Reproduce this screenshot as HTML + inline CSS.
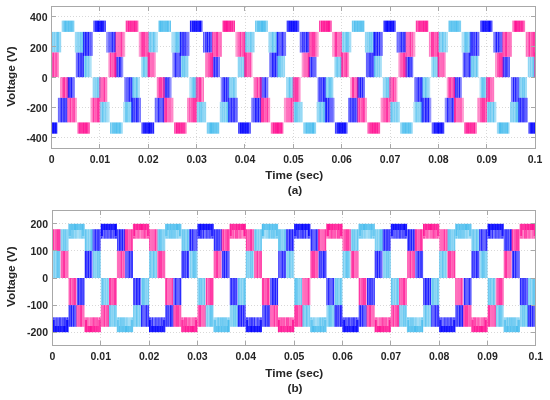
<!DOCTYPE html>
<html><head><meta charset="utf-8"><style>
html,body{margin:0;padding:0;background:#fff;}
svg{display:block;}
text{font-family:"Liberation Sans",Arial,sans-serif;font-weight:bold;fill:#262626;}
</style></head><body><div id="w">
<svg width="550" height="400" viewBox="0 0 550 400">
<defs><pattern id="bk" patternUnits="userSpaceOnUse" width="17" height="400"><rect x="0" width="1" height="400" fill="#0000ff" fill-opacity="0.89"/><rect x="1" width="1" height="400" fill="#0000ff" fill-opacity="0.86"/><rect x="2" width="1" height="400" fill="#0000ff" fill-opacity="0.94"/><rect x="3" width="1" height="400" fill="#0000ff" fill-opacity="0.85"/><rect x="4" width="1" height="400" fill="#0000ff" fill-opacity="0.93"/><rect x="5" width="1" height="400" fill="#0000ff" fill-opacity="0.90"/><rect x="6" width="1" height="400" fill="#0000ff" fill-opacity="0.85"/><rect x="7" width="1" height="400" fill="#0000ff" fill-opacity="0.92"/><rect x="8" width="1" height="400" fill="#0000ff" fill-opacity="0.85"/><rect x="9" width="1" height="400" fill="#0000ff" fill-opacity="0.91"/><rect x="10" width="1" height="400" fill="#0000ff" fill-opacity="0.85"/><rect x="11" width="1" height="400" fill="#0000ff" fill-opacity="0.85"/><rect x="12" width="1" height="400" fill="#0000ff" fill-opacity="0.91"/><rect x="13" width="1" height="400" fill="#0000ff" fill-opacity="0.97"/><rect x="14" width="1" height="400" fill="#0000ff" fill-opacity="0.86"/><rect x="15" width="1" height="400" fill="#0000ff" fill-opacity="0.88"/><rect x="16" width="1" height="400" fill="#0000ff" fill-opacity="0.94"/></pattern><pattern id="bm" patternUnits="userSpaceOnUse" width="17" height="400"><rect x="0" width="1" height="400" fill="#0000ff" fill-opacity="0.87"/><rect x="1" width="1" height="400" fill="#0000ff" fill-opacity="0.75"/><rect x="2" width="1" height="400" fill="#0000ff" fill-opacity="0.68"/><rect x="3" width="1" height="400" fill="#0000ff" fill-opacity="0.88"/><rect x="4" width="1" height="400" fill="#0000ff" fill-opacity="0.57"/><rect x="5" width="1" height="400" fill="#0000ff" fill-opacity="0.84"/><rect x="6" width="1" height="400" fill="#0000ff" fill-opacity="0.65"/><rect x="7" width="1" height="400" fill="#0000ff" fill-opacity="0.60"/><rect x="8" width="1" height="400" fill="#0000ff" fill-opacity="0.59"/><rect x="9" width="1" height="400" fill="#0000ff" fill-opacity="0.65"/><rect x="10" width="1" height="400" fill="#0000ff" fill-opacity="0.83"/><rect x="11" width="1" height="400" fill="#0000ff" fill-opacity="0.61"/><rect x="12" width="1" height="400" fill="#0000ff" fill-opacity="0.75"/><rect x="13" width="1" height="400" fill="#0000ff" fill-opacity="0.77"/><rect x="14" width="1" height="400" fill="#0000ff" fill-opacity="0.68"/><rect x="15" width="1" height="400" fill="#0000ff" fill-opacity="0.74"/><rect x="16" width="1" height="400" fill="#0000ff" fill-opacity="0.57"/></pattern><pattern id="bl" patternUnits="userSpaceOnUse" width="17" height="400"><rect x="0" width="1" height="400" fill="#0000ff" fill-opacity="0.51"/><rect x="1" width="1" height="400" fill="#0000ff" fill-opacity="0.56"/><rect x="2" width="1" height="400" fill="#0000ff" fill-opacity="0.72"/><rect x="3" width="1" height="400" fill="#0000ff" fill-opacity="0.64"/><rect x="4" width="1" height="400" fill="#0000ff" fill-opacity="0.60"/><rect x="5" width="1" height="400" fill="#0000ff" fill-opacity="0.69"/><rect x="6" width="1" height="400" fill="#0000ff" fill-opacity="0.64"/><rect x="7" width="1" height="400" fill="#0000ff" fill-opacity="0.59"/><rect x="8" width="1" height="400" fill="#0000ff" fill-opacity="0.76"/><rect x="9" width="1" height="400" fill="#0000ff" fill-opacity="0.73"/><rect x="10" width="1" height="400" fill="#0000ff" fill-opacity="0.57"/><rect x="11" width="1" height="400" fill="#0000ff" fill-opacity="0.69"/><rect x="12" width="1" height="400" fill="#0000ff" fill-opacity="0.67"/><rect x="13" width="1" height="400" fill="#0000ff" fill-opacity="0.79"/><rect x="14" width="1" height="400" fill="#0000ff" fill-opacity="0.74"/><rect x="15" width="1" height="400" fill="#0000ff" fill-opacity="0.59"/><rect x="16" width="1" height="400" fill="#0000ff" fill-opacity="0.82"/></pattern><pattern id="be" patternUnits="userSpaceOnUse" width="17" height="400"><rect x="0" width="1" height="400" fill="#0000ff" fill-opacity="0.43"/><rect x="1" width="1" height="400" fill="#0000ff" fill-opacity="0.50"/><rect x="2" width="1" height="400" fill="#0000ff" fill-opacity="0.58"/><rect x="3" width="1" height="400" fill="#0000ff" fill-opacity="0.44"/><rect x="4" width="1" height="400" fill="#0000ff" fill-opacity="0.52"/><rect x="5" width="1" height="400" fill="#0000ff" fill-opacity="0.41"/><rect x="6" width="1" height="400" fill="#0000ff" fill-opacity="0.56"/><rect x="7" width="1" height="400" fill="#0000ff" fill-opacity="0.58"/><rect x="8" width="1" height="400" fill="#0000ff" fill-opacity="0.54"/><rect x="9" width="1" height="400" fill="#0000ff" fill-opacity="0.61"/><rect x="10" width="1" height="400" fill="#0000ff" fill-opacity="0.48"/><rect x="11" width="1" height="400" fill="#0000ff" fill-opacity="0.57"/><rect x="12" width="1" height="400" fill="#0000ff" fill-opacity="0.54"/><rect x="13" width="1" height="400" fill="#0000ff" fill-opacity="0.54"/><rect x="14" width="1" height="400" fill="#0000ff" fill-opacity="0.51"/><rect x="15" width="1" height="400" fill="#0000ff" fill-opacity="0.60"/><rect x="16" width="1" height="400" fill="#0000ff" fill-opacity="0.63"/></pattern><pattern id="pk" patternUnits="userSpaceOnUse" width="17" height="400"><rect x="0" width="1" height="400" fill="#ff1493" fill-opacity="0.92"/><rect x="1" width="1" height="400" fill="#ff1493" fill-opacity="0.95"/><rect x="2" width="1" height="400" fill="#ff1493" fill-opacity="0.85"/><rect x="3" width="1" height="400" fill="#ff1493" fill-opacity="0.95"/><rect x="4" width="1" height="400" fill="#ff1493" fill-opacity="0.94"/><rect x="5" width="1" height="400" fill="#ff1493" fill-opacity="1.00"/><rect x="6" width="1" height="400" fill="#ff1493" fill-opacity="0.97"/><rect x="7" width="1" height="400" fill="#ff1493" fill-opacity="0.89"/><rect x="8" width="1" height="400" fill="#ff1493" fill-opacity="0.90"/><rect x="9" width="1" height="400" fill="#ff1493" fill-opacity="0.95"/><rect x="10" width="1" height="400" fill="#ff1493" fill-opacity="0.84"/><rect x="11" width="1" height="400" fill="#ff1493" fill-opacity="0.91"/><rect x="12" width="1" height="400" fill="#ff1493" fill-opacity="0.87"/><rect x="13" width="1" height="400" fill="#ff1493" fill-opacity="0.86"/><rect x="14" width="1" height="400" fill="#ff1493" fill-opacity="0.85"/><rect x="15" width="1" height="400" fill="#ff1493" fill-opacity="0.96"/><rect x="16" width="1" height="400" fill="#ff1493" fill-opacity="0.86"/></pattern><pattern id="pm" patternUnits="userSpaceOnUse" width="17" height="400"><rect x="0" width="1" height="400" fill="#ff1493" fill-opacity="0.63"/><rect x="1" width="1" height="400" fill="#ff1493" fill-opacity="0.68"/><rect x="2" width="1" height="400" fill="#ff1493" fill-opacity="0.85"/><rect x="3" width="1" height="400" fill="#ff1493" fill-opacity="0.58"/><rect x="4" width="1" height="400" fill="#ff1493" fill-opacity="0.70"/><rect x="5" width="1" height="400" fill="#ff1493" fill-opacity="0.74"/><rect x="6" width="1" height="400" fill="#ff1493" fill-opacity="0.85"/><rect x="7" width="1" height="400" fill="#ff1493" fill-opacity="0.83"/><rect x="8" width="1" height="400" fill="#ff1493" fill-opacity="0.84"/><rect x="9" width="1" height="400" fill="#ff1493" fill-opacity="0.64"/><rect x="10" width="1" height="400" fill="#ff1493" fill-opacity="0.69"/><rect x="11" width="1" height="400" fill="#ff1493" fill-opacity="0.67"/><rect x="12" width="1" height="400" fill="#ff1493" fill-opacity="0.85"/><rect x="13" width="1" height="400" fill="#ff1493" fill-opacity="0.88"/><rect x="14" width="1" height="400" fill="#ff1493" fill-opacity="0.60"/><rect x="15" width="1" height="400" fill="#ff1493" fill-opacity="0.61"/><rect x="16" width="1" height="400" fill="#ff1493" fill-opacity="0.63"/></pattern><pattern id="pl" patternUnits="userSpaceOnUse" width="17" height="400"><rect x="0" width="1" height="400" fill="#ff1493" fill-opacity="0.57"/><rect x="1" width="1" height="400" fill="#ff1493" fill-opacity="0.65"/><rect x="2" width="1" height="400" fill="#ff1493" fill-opacity="0.69"/><rect x="3" width="1" height="400" fill="#ff1493" fill-opacity="0.58"/><rect x="4" width="1" height="400" fill="#ff1493" fill-opacity="0.49"/><rect x="5" width="1" height="400" fill="#ff1493" fill-opacity="0.63"/><rect x="6" width="1" height="400" fill="#ff1493" fill-opacity="0.62"/><rect x="7" width="1" height="400" fill="#ff1493" fill-opacity="0.68"/><rect x="8" width="1" height="400" fill="#ff1493" fill-opacity="0.81"/><rect x="9" width="1" height="400" fill="#ff1493" fill-opacity="0.72"/><rect x="10" width="1" height="400" fill="#ff1493" fill-opacity="0.67"/><rect x="11" width="1" height="400" fill="#ff1493" fill-opacity="0.70"/><rect x="12" width="1" height="400" fill="#ff1493" fill-opacity="0.72"/><rect x="13" width="1" height="400" fill="#ff1493" fill-opacity="0.51"/><rect x="14" width="1" height="400" fill="#ff1493" fill-opacity="0.80"/><rect x="15" width="1" height="400" fill="#ff1493" fill-opacity="0.76"/><rect x="16" width="1" height="400" fill="#ff1493" fill-opacity="0.79"/></pattern><pattern id="pe" patternUnits="userSpaceOnUse" width="17" height="400"><rect x="0" width="1" height="400" fill="#ff1493" fill-opacity="0.59"/><rect x="1" width="1" height="400" fill="#ff1493" fill-opacity="0.49"/><rect x="2" width="1" height="400" fill="#ff1493" fill-opacity="0.50"/><rect x="3" width="1" height="400" fill="#ff1493" fill-opacity="0.42"/><rect x="4" width="1" height="400" fill="#ff1493" fill-opacity="0.55"/><rect x="5" width="1" height="400" fill="#ff1493" fill-opacity="0.41"/><rect x="6" width="1" height="400" fill="#ff1493" fill-opacity="0.42"/><rect x="7" width="1" height="400" fill="#ff1493" fill-opacity="0.45"/><rect x="8" width="1" height="400" fill="#ff1493" fill-opacity="0.44"/><rect x="9" width="1" height="400" fill="#ff1493" fill-opacity="0.48"/><rect x="10" width="1" height="400" fill="#ff1493" fill-opacity="0.41"/><rect x="11" width="1" height="400" fill="#ff1493" fill-opacity="0.40"/><rect x="12" width="1" height="400" fill="#ff1493" fill-opacity="0.44"/><rect x="13" width="1" height="400" fill="#ff1493" fill-opacity="0.42"/><rect x="14" width="1" height="400" fill="#ff1493" fill-opacity="0.49"/><rect x="15" width="1" height="400" fill="#ff1493" fill-opacity="0.41"/><rect x="16" width="1" height="400" fill="#ff1493" fill-opacity="0.61"/></pattern><pattern id="ck" patternUnits="userSpaceOnUse" width="17" height="400"><rect x="0" width="1" height="400" fill="#4dbeee" fill-opacity="0.94"/><rect x="1" width="1" height="400" fill="#4dbeee" fill-opacity="0.86"/><rect x="2" width="1" height="400" fill="#4dbeee" fill-opacity="0.88"/><rect x="3" width="1" height="400" fill="#4dbeee" fill-opacity="0.90"/><rect x="4" width="1" height="400" fill="#4dbeee" fill-opacity="0.90"/><rect x="5" width="1" height="400" fill="#4dbeee" fill-opacity="0.86"/><rect x="6" width="1" height="400" fill="#4dbeee" fill-opacity="0.98"/><rect x="7" width="1" height="400" fill="#4dbeee" fill-opacity="1.00"/><rect x="8" width="1" height="400" fill="#4dbeee" fill-opacity="0.91"/><rect x="9" width="1" height="400" fill="#4dbeee" fill-opacity="0.92"/><rect x="10" width="1" height="400" fill="#4dbeee" fill-opacity="0.85"/><rect x="11" width="1" height="400" fill="#4dbeee" fill-opacity="0.86"/><rect x="12" width="1" height="400" fill="#4dbeee" fill-opacity="0.89"/><rect x="13" width="1" height="400" fill="#4dbeee" fill-opacity="0.88"/><rect x="14" width="1" height="400" fill="#4dbeee" fill-opacity="0.97"/><rect x="15" width="1" height="400" fill="#4dbeee" fill-opacity="0.87"/><rect x="16" width="1" height="400" fill="#4dbeee" fill-opacity="0.84"/></pattern><pattern id="cm" patternUnits="userSpaceOnUse" width="17" height="400"><rect x="0" width="1" height="400" fill="#4dbeee" fill-opacity="0.87"/><rect x="1" width="1" height="400" fill="#4dbeee" fill-opacity="0.73"/><rect x="2" width="1" height="400" fill="#4dbeee" fill-opacity="0.60"/><rect x="3" width="1" height="400" fill="#4dbeee" fill-opacity="0.73"/><rect x="4" width="1" height="400" fill="#4dbeee" fill-opacity="0.56"/><rect x="5" width="1" height="400" fill="#4dbeee" fill-opacity="0.73"/><rect x="6" width="1" height="400" fill="#4dbeee" fill-opacity="0.88"/><rect x="7" width="1" height="400" fill="#4dbeee" fill-opacity="0.84"/><rect x="8" width="1" height="400" fill="#4dbeee" fill-opacity="0.79"/><rect x="9" width="1" height="400" fill="#4dbeee" fill-opacity="0.64"/><rect x="10" width="1" height="400" fill="#4dbeee" fill-opacity="0.67"/><rect x="11" width="1" height="400" fill="#4dbeee" fill-opacity="0.61"/><rect x="12" width="1" height="400" fill="#4dbeee" fill-opacity="0.81"/><rect x="13" width="1" height="400" fill="#4dbeee" fill-opacity="0.73"/><rect x="14" width="1" height="400" fill="#4dbeee" fill-opacity="0.81"/><rect x="15" width="1" height="400" fill="#4dbeee" fill-opacity="0.66"/><rect x="16" width="1" height="400" fill="#4dbeee" fill-opacity="0.63"/></pattern><pattern id="cl" patternUnits="userSpaceOnUse" width="17" height="400"><rect x="0" width="1" height="400" fill="#4dbeee" fill-opacity="0.77"/><rect x="1" width="1" height="400" fill="#4dbeee" fill-opacity="0.82"/><rect x="2" width="1" height="400" fill="#4dbeee" fill-opacity="0.78"/><rect x="3" width="1" height="400" fill="#4dbeee" fill-opacity="0.76"/><rect x="4" width="1" height="400" fill="#4dbeee" fill-opacity="0.77"/><rect x="5" width="1" height="400" fill="#4dbeee" fill-opacity="0.74"/><rect x="6" width="1" height="400" fill="#4dbeee" fill-opacity="0.57"/><rect x="7" width="1" height="400" fill="#4dbeee" fill-opacity="0.67"/><rect x="8" width="1" height="400" fill="#4dbeee" fill-opacity="0.61"/><rect x="9" width="1" height="400" fill="#4dbeee" fill-opacity="0.50"/><rect x="10" width="1" height="400" fill="#4dbeee" fill-opacity="0.50"/><rect x="11" width="1" height="400" fill="#4dbeee" fill-opacity="0.59"/><rect x="12" width="1" height="400" fill="#4dbeee" fill-opacity="0.58"/><rect x="13" width="1" height="400" fill="#4dbeee" fill-opacity="0.73"/><rect x="14" width="1" height="400" fill="#4dbeee" fill-opacity="0.82"/><rect x="15" width="1" height="400" fill="#4dbeee" fill-opacity="0.64"/><rect x="16" width="1" height="400" fill="#4dbeee" fill-opacity="0.81"/></pattern><pattern id="ce" patternUnits="userSpaceOnUse" width="17" height="400"><rect x="0" width="1" height="400" fill="#4dbeee" fill-opacity="0.64"/><rect x="1" width="1" height="400" fill="#4dbeee" fill-opacity="0.63"/><rect x="2" width="1" height="400" fill="#4dbeee" fill-opacity="0.49"/><rect x="3" width="1" height="400" fill="#4dbeee" fill-opacity="0.45"/><rect x="4" width="1" height="400" fill="#4dbeee" fill-opacity="0.45"/><rect x="5" width="1" height="400" fill="#4dbeee" fill-opacity="0.45"/><rect x="6" width="1" height="400" fill="#4dbeee" fill-opacity="0.45"/><rect x="7" width="1" height="400" fill="#4dbeee" fill-opacity="0.55"/><rect x="8" width="1" height="400" fill="#4dbeee" fill-opacity="0.62"/><rect x="9" width="1" height="400" fill="#4dbeee" fill-opacity="0.60"/><rect x="10" width="1" height="400" fill="#4dbeee" fill-opacity="0.52"/><rect x="11" width="1" height="400" fill="#4dbeee" fill-opacity="0.56"/><rect x="12" width="1" height="400" fill="#4dbeee" fill-opacity="0.59"/><rect x="13" width="1" height="400" fill="#4dbeee" fill-opacity="0.42"/><rect x="14" width="1" height="400" fill="#4dbeee" fill-opacity="0.56"/><rect x="15" width="1" height="400" fill="#4dbeee" fill-opacity="0.62"/><rect x="16" width="1" height="400" fill="#4dbeee" fill-opacity="0.59"/></pattern></defs>
<rect width="550" height="400" fill="#fff"/>
<g stroke="#d8d8d8" stroke-dasharray="1 2" shape-rendering="crispEdges">
<line x1="51.50" y1="137.50" x2="535.50" y2="137.50"/>
<line x1="51.50" y1="107.50" x2="535.50" y2="107.50"/>
<line x1="51.50" y1="77.50" x2="535.50" y2="77.50"/>
<line x1="51.50" y1="46.50" x2="535.50" y2="46.50"/>
<line x1="51.50" y1="16.50" x2="535.50" y2="16.50"/>
<line x1="99.95" y1="6.50" x2="99.95" y2="148.50"/>
<line x1="148.30" y1="6.50" x2="148.30" y2="148.50"/>
<line x1="196.65" y1="6.50" x2="196.65" y2="148.50"/>
<line x1="245.00" y1="6.50" x2="245.00" y2="148.50"/>
<line x1="293.35" y1="6.50" x2="293.35" y2="148.50"/>
<line x1="341.70" y1="6.50" x2="341.70" y2="148.50"/>
<line x1="390.05" y1="6.50" x2="390.05" y2="148.50"/>
<line x1="438.40" y1="6.50" x2="438.40" y2="148.50"/>
<line x1="486.75" y1="6.50" x2="486.75" y2="148.50"/>
<line x1="52.50" y1="332.50" x2="535.50" y2="332.50"/>
<line x1="52.50" y1="305.50" x2="535.50" y2="305.50"/>
<line x1="52.50" y1="278.50" x2="535.50" y2="278.50"/>
<line x1="52.50" y1="250.50" x2="535.50" y2="250.50"/>
<line x1="52.50" y1="223.50" x2="535.50" y2="223.50"/>
<line x1="100.75" y1="210.50" x2="100.75" y2="345.50"/>
<line x1="149.10" y1="210.50" x2="149.10" y2="345.50"/>
<line x1="197.45" y1="210.50" x2="197.45" y2="345.50"/>
<line x1="245.80" y1="210.50" x2="245.80" y2="345.50"/>
<line x1="294.15" y1="210.50" x2="294.15" y2="345.50"/>
<line x1="342.50" y1="210.50" x2="342.50" y2="345.50"/>
<line x1="390.85" y1="210.50" x2="390.85" y2="345.50"/>
<line x1="439.20" y1="210.50" x2="439.20" y2="345.50"/>
<line x1="487.55" y1="210.50" x2="487.55" y2="345.50"/>
</g>
<g>
<rect x="61.7" y="20.6" width="1.6" height="11.3" fill="url(#cm)"/>
<rect x="63.3" y="20.6" width="9.6" height="11.3" fill="url(#ck)"/>
<rect x="72.9" y="20.6" width="1.4" height="11.3" fill="url(#cm)"/>
<rect x="52.0" y="31.9" width="7.2" height="20.5" fill="url(#cm)"/>
<rect x="59.2" y="31.9" width="2.0" height="20.5" fill="url(#ce)"/>
<rect x="74.8" y="31.9" width="2.0" height="20.7" fill="url(#ce)"/>
<rect x="76.8" y="31.9" width="7.7" height="20.7" fill="url(#cm)"/>
<rect x="52.0" y="56.8" width="0.5" height="20.4" fill="url(#cm)"/>
<rect x="83.5" y="55.9" width="6.7" height="21.3" fill="url(#cm)"/>
<rect x="90.2" y="55.9" width="1.5" height="21.3" fill="url(#ce)"/>
<rect x="110.0" y="122.4" width="1.6" height="11.3" fill="url(#cm)"/>
<rect x="111.6" y="122.4" width="9.6" height="11.3" fill="url(#ck)"/>
<rect x="121.2" y="122.4" width="1.4" height="11.3" fill="url(#cm)"/>
<rect x="99.8" y="101.9" width="7.7" height="20.5" fill="url(#cm)"/>
<rect x="107.5" y="101.9" width="2.0" height="20.5" fill="url(#ce)"/>
<rect x="123.1" y="101.9" width="2.0" height="20.5" fill="url(#ce)"/>
<rect x="125.1" y="101.9" width="7.7" height="20.5" fill="url(#cm)"/>
<rect x="92.6" y="77.2" width="1.5" height="20.7" fill="url(#ce)"/>
<rect x="94.1" y="77.2" width="6.7" height="20.7" fill="url(#cm)"/>
<rect x="131.8" y="77.2" width="6.7" height="20.7" fill="url(#cm)"/>
<rect x="138.5" y="77.2" width="1.5" height="20.7" fill="url(#ce)"/>
<rect x="158.4" y="20.6" width="1.6" height="11.3" fill="url(#cm)"/>
<rect x="160.0" y="20.6" width="9.6" height="11.3" fill="url(#ck)"/>
<rect x="169.6" y="20.6" width="1.4" height="11.3" fill="url(#cm)"/>
<rect x="148.2" y="31.9" width="7.7" height="20.5" fill="url(#cm)"/>
<rect x="155.9" y="31.9" width="2.0" height="20.5" fill="url(#ce)"/>
<rect x="171.5" y="31.9" width="2.0" height="20.7" fill="url(#ce)"/>
<rect x="173.5" y="31.9" width="7.7" height="20.7" fill="url(#cm)"/>
<rect x="141.0" y="56.8" width="1.5" height="20.4" fill="url(#ce)"/>
<rect x="142.5" y="56.8" width="6.7" height="20.4" fill="url(#cm)"/>
<rect x="180.2" y="55.9" width="6.7" height="21.3" fill="url(#cm)"/>
<rect x="186.9" y="55.9" width="1.5" height="21.3" fill="url(#ce)"/>
<rect x="206.7" y="122.4" width="1.6" height="11.3" fill="url(#cm)"/>
<rect x="208.3" y="122.4" width="9.6" height="11.3" fill="url(#ck)"/>
<rect x="217.9" y="122.4" width="1.4" height="11.3" fill="url(#cm)"/>
<rect x="196.5" y="101.9" width="7.7" height="20.5" fill="url(#cm)"/>
<rect x="204.2" y="101.9" width="2.0" height="20.5" fill="url(#ce)"/>
<rect x="219.8" y="101.9" width="2.0" height="20.5" fill="url(#ce)"/>
<rect x="221.8" y="101.9" width="7.7" height="20.5" fill="url(#cm)"/>
<rect x="189.3" y="77.2" width="1.5" height="20.7" fill="url(#ce)"/>
<rect x="190.8" y="77.2" width="6.7" height="20.7" fill="url(#cm)"/>
<rect x="228.5" y="77.2" width="6.7" height="20.7" fill="url(#cm)"/>
<rect x="235.2" y="77.2" width="1.5" height="20.7" fill="url(#ce)"/>
<rect x="255.1" y="20.6" width="1.6" height="11.3" fill="url(#cm)"/>
<rect x="256.7" y="20.6" width="9.6" height="11.3" fill="url(#ck)"/>
<rect x="266.3" y="20.6" width="1.4" height="11.3" fill="url(#cm)"/>
<rect x="244.9" y="31.9" width="7.7" height="20.5" fill="url(#cm)"/>
<rect x="252.6" y="31.9" width="2.0" height="20.5" fill="url(#ce)"/>
<rect x="268.2" y="31.9" width="2.0" height="20.7" fill="url(#ce)"/>
<rect x="270.2" y="31.9" width="7.7" height="20.7" fill="url(#cm)"/>
<rect x="237.7" y="56.8" width="1.5" height="20.4" fill="url(#ce)"/>
<rect x="239.2" y="56.8" width="6.7" height="20.4" fill="url(#cm)"/>
<rect x="276.9" y="55.9" width="6.7" height="21.3" fill="url(#cm)"/>
<rect x="283.6" y="55.9" width="1.5" height="21.3" fill="url(#ce)"/>
<rect x="303.4" y="122.4" width="1.6" height="11.3" fill="url(#cm)"/>
<rect x="305.1" y="122.4" width="9.6" height="11.3" fill="url(#ck)"/>
<rect x="314.7" y="122.4" width="1.4" height="11.3" fill="url(#cm)"/>
<rect x="293.2" y="101.9" width="7.7" height="20.5" fill="url(#cm)"/>
<rect x="300.9" y="101.9" width="2.0" height="20.5" fill="url(#ce)"/>
<rect x="316.6" y="101.9" width="2.0" height="20.5" fill="url(#ce)"/>
<rect x="318.6" y="101.9" width="7.7" height="20.5" fill="url(#cm)"/>
<rect x="286.1" y="77.2" width="1.5" height="20.7" fill="url(#ce)"/>
<rect x="287.6" y="77.2" width="6.7" height="20.7" fill="url(#cm)"/>
<rect x="325.2" y="77.2" width="6.7" height="20.7" fill="url(#cm)"/>
<rect x="331.9" y="77.2" width="1.5" height="20.7" fill="url(#ce)"/>
<rect x="351.8" y="20.6" width="1.6" height="11.3" fill="url(#cm)"/>
<rect x="353.4" y="20.6" width="9.6" height="11.3" fill="url(#ck)"/>
<rect x="363.0" y="20.6" width="1.4" height="11.3" fill="url(#cm)"/>
<rect x="341.6" y="31.9" width="7.7" height="20.5" fill="url(#cm)"/>
<rect x="349.3" y="31.9" width="2.0" height="20.5" fill="url(#ce)"/>
<rect x="364.9" y="31.9" width="2.0" height="20.7" fill="url(#ce)"/>
<rect x="366.9" y="31.9" width="7.7" height="20.7" fill="url(#cm)"/>
<rect x="334.4" y="56.8" width="1.5" height="20.4" fill="url(#ce)"/>
<rect x="335.9" y="56.8" width="6.7" height="20.4" fill="url(#cm)"/>
<rect x="373.6" y="55.9" width="6.7" height="21.3" fill="url(#cm)"/>
<rect x="380.3" y="55.9" width="1.5" height="21.3" fill="url(#ce)"/>
<rect x="400.2" y="122.4" width="1.6" height="11.3" fill="url(#cm)"/>
<rect x="401.8" y="122.4" width="9.6" height="11.3" fill="url(#ck)"/>
<rect x="411.4" y="122.4" width="1.4" height="11.3" fill="url(#cm)"/>
<rect x="390.0" y="101.9" width="7.7" height="20.5" fill="url(#cm)"/>
<rect x="397.7" y="101.9" width="2.0" height="20.5" fill="url(#ce)"/>
<rect x="413.3" y="101.9" width="2.0" height="20.5" fill="url(#ce)"/>
<rect x="415.3" y="101.9" width="7.7" height="20.5" fill="url(#cm)"/>
<rect x="382.8" y="77.2" width="1.5" height="20.7" fill="url(#ce)"/>
<rect x="384.3" y="77.2" width="6.7" height="20.7" fill="url(#cm)"/>
<rect x="422.0" y="77.2" width="6.7" height="20.7" fill="url(#cm)"/>
<rect x="428.7" y="77.2" width="1.5" height="20.7" fill="url(#ce)"/>
<rect x="448.5" y="20.6" width="1.6" height="11.3" fill="url(#cm)"/>
<rect x="450.1" y="20.6" width="9.6" height="11.3" fill="url(#ck)"/>
<rect x="459.7" y="20.6" width="1.4" height="11.3" fill="url(#cm)"/>
<rect x="438.3" y="31.9" width="7.7" height="20.5" fill="url(#cm)"/>
<rect x="446.0" y="31.9" width="2.0" height="20.5" fill="url(#ce)"/>
<rect x="461.6" y="31.9" width="2.0" height="20.7" fill="url(#ce)"/>
<rect x="463.6" y="31.9" width="7.7" height="20.7" fill="url(#cm)"/>
<rect x="431.1" y="56.8" width="1.5" height="20.4" fill="url(#ce)"/>
<rect x="432.6" y="56.8" width="6.7" height="20.4" fill="url(#cm)"/>
<rect x="470.3" y="55.9" width="6.7" height="21.3" fill="url(#cm)"/>
<rect x="477.0" y="55.9" width="1.5" height="21.3" fill="url(#ce)"/>
<rect x="496.9" y="122.4" width="1.6" height="11.3" fill="url(#cm)"/>
<rect x="498.5" y="122.4" width="9.6" height="11.3" fill="url(#ck)"/>
<rect x="508.1" y="122.4" width="1.4" height="11.3" fill="url(#cm)"/>
<rect x="486.7" y="101.9" width="7.7" height="20.5" fill="url(#cm)"/>
<rect x="494.4" y="101.9" width="2.0" height="20.5" fill="url(#ce)"/>
<rect x="510.0" y="101.9" width="2.0" height="20.5" fill="url(#ce)"/>
<rect x="512.0" y="101.9" width="7.7" height="20.5" fill="url(#cm)"/>
<rect x="479.5" y="77.2" width="1.5" height="20.7" fill="url(#ce)"/>
<rect x="481.0" y="77.2" width="6.7" height="20.7" fill="url(#cm)"/>
<rect x="518.7" y="77.2" width="6.7" height="20.7" fill="url(#cm)"/>
<rect x="525.4" y="77.2" width="1.5" height="20.7" fill="url(#ce)"/>
<rect x="527.8" y="56.8" width="1.5" height="20.4" fill="url(#ce)"/>
<rect x="529.3" y="56.8" width="5.7" height="20.4" fill="url(#cm)"/>
<rect x="52.0" y="122.4" width="4.0" height="11.3" fill="url(#bk)"/>
<rect x="56.0" y="122.4" width="1.4" height="11.3" fill="url(#bm)"/>
<rect x="57.9" y="97.8" width="2.0" height="24.6" fill="url(#be)"/>
<rect x="59.9" y="97.8" width="7.7" height="24.6" fill="url(#bm)"/>
<rect x="66.7" y="77.2" width="6.7" height="20.7" fill="url(#bm)"/>
<rect x="73.3" y="77.2" width="1.5" height="20.7" fill="url(#be)"/>
<rect x="93.2" y="20.6" width="1.6" height="11.3" fill="url(#bm)"/>
<rect x="94.8" y="20.6" width="9.6" height="11.3" fill="url(#bk)"/>
<rect x="104.4" y="20.6" width="1.4" height="11.3" fill="url(#bm)"/>
<rect x="83.0" y="31.9" width="7.7" height="24.0" fill="url(#bm)"/>
<rect x="90.7" y="31.9" width="2.0" height="24.0" fill="url(#be)"/>
<rect x="106.3" y="31.9" width="2.0" height="20.7" fill="url(#be)"/>
<rect x="108.3" y="31.9" width="7.7" height="20.7" fill="url(#bm)"/>
<rect x="75.8" y="52.6" width="1.5" height="24.6" fill="url(#be)"/>
<rect x="77.3" y="52.6" width="6.7" height="24.6" fill="url(#bm)"/>
<rect x="115.0" y="56.8" width="6.7" height="20.4" fill="url(#bm)"/>
<rect x="121.7" y="56.8" width="1.5" height="20.4" fill="url(#be)"/>
<rect x="141.5" y="122.4" width="1.6" height="11.3" fill="url(#bm)"/>
<rect x="143.1" y="122.4" width="9.6" height="11.3" fill="url(#bk)"/>
<rect x="152.8" y="122.4" width="1.4" height="11.3" fill="url(#bm)"/>
<rect x="131.3" y="97.8" width="7.7" height="24.6" fill="url(#bm)"/>
<rect x="139.0" y="97.8" width="2.0" height="24.6" fill="url(#be)"/>
<rect x="154.7" y="97.8" width="2.0" height="24.6" fill="url(#be)"/>
<rect x="156.7" y="97.8" width="7.7" height="24.6" fill="url(#bm)"/>
<rect x="124.1" y="77.2" width="1.5" height="24.7" fill="url(#be)"/>
<rect x="125.6" y="77.2" width="6.7" height="24.7" fill="url(#bm)"/>
<rect x="163.3" y="77.2" width="6.7" height="20.7" fill="url(#bm)"/>
<rect x="170.0" y="77.2" width="1.5" height="20.7" fill="url(#be)"/>
<rect x="189.9" y="20.6" width="1.6" height="11.3" fill="url(#bm)"/>
<rect x="191.5" y="20.6" width="9.6" height="11.3" fill="url(#bk)"/>
<rect x="201.1" y="20.6" width="1.4" height="11.3" fill="url(#bm)"/>
<rect x="179.7" y="31.9" width="7.7" height="24.0" fill="url(#bm)"/>
<rect x="187.4" y="31.9" width="2.0" height="24.0" fill="url(#be)"/>
<rect x="203.0" y="31.9" width="2.0" height="20.7" fill="url(#be)"/>
<rect x="205.0" y="31.9" width="7.7" height="20.7" fill="url(#bm)"/>
<rect x="172.5" y="52.6" width="1.5" height="24.6" fill="url(#be)"/>
<rect x="174.0" y="52.6" width="6.7" height="24.6" fill="url(#bm)"/>
<rect x="211.7" y="56.8" width="6.7" height="20.4" fill="url(#bm)"/>
<rect x="218.4" y="56.8" width="1.5" height="20.4" fill="url(#be)"/>
<rect x="238.2" y="122.4" width="1.6" height="11.3" fill="url(#bm)"/>
<rect x="239.8" y="122.4" width="9.6" height="11.3" fill="url(#bk)"/>
<rect x="249.4" y="122.4" width="1.4" height="11.3" fill="url(#bm)"/>
<rect x="228.0" y="97.8" width="7.7" height="24.6" fill="url(#bm)"/>
<rect x="235.7" y="97.8" width="2.0" height="24.6" fill="url(#be)"/>
<rect x="251.3" y="97.8" width="2.0" height="24.6" fill="url(#be)"/>
<rect x="253.3" y="97.8" width="7.7" height="24.6" fill="url(#bm)"/>
<rect x="220.8" y="77.2" width="1.5" height="24.7" fill="url(#be)"/>
<rect x="222.3" y="77.2" width="6.7" height="24.7" fill="url(#bm)"/>
<rect x="260.0" y="77.2" width="6.7" height="20.7" fill="url(#bm)"/>
<rect x="266.8" y="77.2" width="1.5" height="20.7" fill="url(#be)"/>
<rect x="286.6" y="20.6" width="1.6" height="11.3" fill="url(#bm)"/>
<rect x="288.2" y="20.6" width="9.6" height="11.3" fill="url(#bk)"/>
<rect x="297.8" y="20.6" width="1.4" height="11.3" fill="url(#bm)"/>
<rect x="276.4" y="31.9" width="7.7" height="24.0" fill="url(#bm)"/>
<rect x="284.1" y="31.9" width="2.0" height="24.0" fill="url(#be)"/>
<rect x="299.7" y="31.9" width="2.0" height="20.7" fill="url(#be)"/>
<rect x="301.7" y="31.9" width="7.7" height="20.7" fill="url(#bm)"/>
<rect x="269.2" y="52.6" width="1.5" height="24.6" fill="url(#be)"/>
<rect x="270.7" y="52.6" width="6.7" height="24.6" fill="url(#bm)"/>
<rect x="308.4" y="56.8" width="6.7" height="20.4" fill="url(#bm)"/>
<rect x="315.1" y="56.8" width="1.5" height="20.4" fill="url(#be)"/>
<rect x="334.9" y="122.4" width="1.6" height="11.3" fill="url(#bm)"/>
<rect x="336.6" y="122.4" width="9.6" height="11.3" fill="url(#bk)"/>
<rect x="346.2" y="122.4" width="1.4" height="11.3" fill="url(#bm)"/>
<rect x="324.8" y="97.8" width="7.7" height="24.6" fill="url(#bm)"/>
<rect x="332.4" y="97.8" width="2.0" height="24.6" fill="url(#be)"/>
<rect x="348.1" y="97.8" width="2.0" height="24.6" fill="url(#be)"/>
<rect x="350.1" y="97.8" width="7.7" height="24.6" fill="url(#bm)"/>
<rect x="317.6" y="77.2" width="1.5" height="24.7" fill="url(#be)"/>
<rect x="319.1" y="77.2" width="6.7" height="24.7" fill="url(#bm)"/>
<rect x="356.8" y="77.2" width="6.7" height="20.7" fill="url(#bm)"/>
<rect x="363.4" y="77.2" width="1.5" height="20.7" fill="url(#be)"/>
<rect x="383.3" y="20.6" width="1.6" height="11.3" fill="url(#bm)"/>
<rect x="384.9" y="20.6" width="9.6" height="11.3" fill="url(#bk)"/>
<rect x="394.5" y="20.6" width="1.4" height="11.3" fill="url(#bm)"/>
<rect x="373.1" y="31.9" width="7.7" height="24.0" fill="url(#bm)"/>
<rect x="380.8" y="31.9" width="2.0" height="24.0" fill="url(#be)"/>
<rect x="396.4" y="31.9" width="2.0" height="20.7" fill="url(#be)"/>
<rect x="398.4" y="31.9" width="7.7" height="20.7" fill="url(#bm)"/>
<rect x="365.9" y="52.6" width="1.5" height="24.6" fill="url(#be)"/>
<rect x="367.4" y="52.6" width="6.7" height="24.6" fill="url(#bm)"/>
<rect x="405.1" y="56.8" width="6.7" height="20.4" fill="url(#bm)"/>
<rect x="411.8" y="56.8" width="1.5" height="20.4" fill="url(#be)"/>
<rect x="431.7" y="122.4" width="1.6" height="11.3" fill="url(#bm)"/>
<rect x="433.3" y="122.4" width="9.6" height="11.3" fill="url(#bk)"/>
<rect x="442.9" y="122.4" width="1.4" height="11.3" fill="url(#bm)"/>
<rect x="421.5" y="97.8" width="7.7" height="24.6" fill="url(#bm)"/>
<rect x="429.2" y="97.8" width="2.0" height="24.6" fill="url(#be)"/>
<rect x="444.8" y="97.8" width="2.0" height="24.6" fill="url(#be)"/>
<rect x="446.8" y="97.8" width="7.7" height="24.6" fill="url(#bm)"/>
<rect x="414.3" y="77.2" width="1.5" height="24.7" fill="url(#be)"/>
<rect x="415.8" y="77.2" width="6.7" height="24.7" fill="url(#bm)"/>
<rect x="453.5" y="77.2" width="6.7" height="20.7" fill="url(#bm)"/>
<rect x="460.2" y="77.2" width="1.5" height="20.7" fill="url(#be)"/>
<rect x="480.0" y="20.6" width="1.6" height="11.3" fill="url(#bm)"/>
<rect x="481.6" y="20.6" width="9.6" height="11.3" fill="url(#bk)"/>
<rect x="491.2" y="20.6" width="1.4" height="11.3" fill="url(#bm)"/>
<rect x="469.8" y="31.9" width="7.7" height="24.0" fill="url(#bm)"/>
<rect x="477.5" y="31.9" width="2.0" height="24.0" fill="url(#be)"/>
<rect x="493.1" y="31.9" width="2.0" height="20.7" fill="url(#be)"/>
<rect x="495.1" y="31.9" width="7.7" height="20.7" fill="url(#bm)"/>
<rect x="462.6" y="52.6" width="1.5" height="24.6" fill="url(#be)"/>
<rect x="464.1" y="52.6" width="6.7" height="24.6" fill="url(#bm)"/>
<rect x="501.8" y="56.8" width="6.7" height="20.4" fill="url(#bm)"/>
<rect x="508.5" y="56.8" width="1.5" height="20.4" fill="url(#be)"/>
<rect x="528.4" y="122.4" width="1.6" height="11.3" fill="url(#bm)"/>
<rect x="530.0" y="122.4" width="5.0" height="11.3" fill="url(#bk)"/>
<rect x="518.1" y="97.8" width="7.7" height="24.6" fill="url(#bm)"/>
<rect x="525.9" y="97.8" width="2.0" height="24.6" fill="url(#be)"/>
<rect x="510.9" y="77.2" width="1.5" height="24.7" fill="url(#be)"/>
<rect x="512.5" y="77.2" width="6.7" height="24.7" fill="url(#bm)"/>
<rect x="52.0" y="52.4" width="5.5" height="24.7" fill="url(#pm)"/>
<rect x="57.5" y="52.4" width="1.5" height="24.7" fill="url(#pe)"/>
<rect x="77.4" y="122.4" width="1.6" height="11.3" fill="url(#pm)"/>
<rect x="79.0" y="122.4" width="9.6" height="11.3" fill="url(#pk)"/>
<rect x="88.5" y="122.4" width="1.4" height="11.3" fill="url(#pm)"/>
<rect x="67.2" y="97.8" width="7.7" height="24.6" fill="url(#pm)"/>
<rect x="74.9" y="97.8" width="2.0" height="24.6" fill="url(#pe)"/>
<rect x="90.5" y="97.8" width="2.0" height="24.6" fill="url(#pe)"/>
<rect x="92.5" y="97.8" width="7.7" height="24.6" fill="url(#pm)"/>
<rect x="60.0" y="77.2" width="1.5" height="20.7" fill="url(#pe)"/>
<rect x="61.5" y="77.2" width="6.7" height="20.7" fill="url(#pm)"/>
<rect x="99.2" y="77.2" width="6.7" height="24.7" fill="url(#pm)"/>
<rect x="105.9" y="77.2" width="1.5" height="24.7" fill="url(#pe)"/>
<rect x="125.7" y="20.6" width="1.6" height="11.3" fill="url(#pm)"/>
<rect x="127.3" y="20.6" width="9.6" height="11.3" fill="url(#pk)"/>
<rect x="136.9" y="20.6" width="1.4" height="11.3" fill="url(#pm)"/>
<rect x="115.5" y="31.9" width="7.7" height="24.9" fill="url(#pm)"/>
<rect x="123.2" y="31.9" width="2.0" height="24.9" fill="url(#pe)"/>
<rect x="138.8" y="31.9" width="2.0" height="24.9" fill="url(#pe)"/>
<rect x="140.8" y="31.9" width="7.7" height="24.9" fill="url(#pm)"/>
<rect x="108.3" y="52.6" width="1.5" height="24.6" fill="url(#pe)"/>
<rect x="109.8" y="52.6" width="6.7" height="24.6" fill="url(#pm)"/>
<rect x="147.5" y="52.4" width="6.7" height="24.7" fill="url(#pm)"/>
<rect x="154.2" y="52.4" width="1.5" height="24.7" fill="url(#pe)"/>
<rect x="174.0" y="122.4" width="1.6" height="11.3" fill="url(#pm)"/>
<rect x="175.6" y="122.4" width="9.6" height="11.3" fill="url(#pk)"/>
<rect x="185.2" y="122.4" width="1.4" height="11.3" fill="url(#pm)"/>
<rect x="163.8" y="97.8" width="7.7" height="24.6" fill="url(#pm)"/>
<rect x="171.5" y="97.8" width="2.0" height="24.6" fill="url(#pe)"/>
<rect x="187.2" y="97.8" width="2.0" height="24.6" fill="url(#pe)"/>
<rect x="189.2" y="97.8" width="7.7" height="24.6" fill="url(#pm)"/>
<rect x="156.7" y="77.2" width="1.5" height="20.7" fill="url(#pe)"/>
<rect x="158.2" y="77.2" width="6.7" height="20.7" fill="url(#pm)"/>
<rect x="195.8" y="77.2" width="6.7" height="24.7" fill="url(#pm)"/>
<rect x="202.5" y="77.2" width="1.5" height="24.7" fill="url(#pe)"/>
<rect x="222.4" y="20.6" width="1.6" height="11.3" fill="url(#pm)"/>
<rect x="224.0" y="20.6" width="9.6" height="11.3" fill="url(#pk)"/>
<rect x="233.6" y="20.6" width="1.4" height="11.3" fill="url(#pm)"/>
<rect x="212.2" y="31.9" width="7.7" height="24.9" fill="url(#pm)"/>
<rect x="219.9" y="31.9" width="2.0" height="24.9" fill="url(#pe)"/>
<rect x="235.5" y="31.9" width="2.0" height="24.9" fill="url(#pe)"/>
<rect x="237.5" y="31.9" width="7.7" height="24.9" fill="url(#pm)"/>
<rect x="205.0" y="52.6" width="1.5" height="24.6" fill="url(#pe)"/>
<rect x="206.5" y="52.6" width="6.7" height="24.6" fill="url(#pm)"/>
<rect x="244.2" y="52.4" width="6.7" height="24.7" fill="url(#pm)"/>
<rect x="250.9" y="52.4" width="1.5" height="24.7" fill="url(#pe)"/>
<rect x="270.8" y="122.4" width="1.6" height="11.3" fill="url(#pm)"/>
<rect x="272.4" y="122.4" width="9.6" height="11.3" fill="url(#pk)"/>
<rect x="282.0" y="122.4" width="1.4" height="11.3" fill="url(#pm)"/>
<rect x="260.6" y="97.8" width="7.7" height="24.6" fill="url(#pm)"/>
<rect x="268.2" y="97.8" width="2.0" height="24.6" fill="url(#pe)"/>
<rect x="283.9" y="97.8" width="2.0" height="24.6" fill="url(#pe)"/>
<rect x="285.9" y="97.8" width="7.7" height="24.6" fill="url(#pm)"/>
<rect x="253.4" y="77.2" width="1.5" height="20.7" fill="url(#pe)"/>
<rect x="254.9" y="77.2" width="6.7" height="20.7" fill="url(#pm)"/>
<rect x="292.6" y="77.2" width="6.7" height="24.7" fill="url(#pm)"/>
<rect x="299.2" y="77.2" width="1.5" height="24.7" fill="url(#pe)"/>
<rect x="319.1" y="20.6" width="1.6" height="11.3" fill="url(#pm)"/>
<rect x="320.7" y="20.6" width="9.6" height="11.3" fill="url(#pk)"/>
<rect x="330.3" y="20.6" width="1.4" height="11.3" fill="url(#pm)"/>
<rect x="308.9" y="31.9" width="7.7" height="24.9" fill="url(#pm)"/>
<rect x="316.6" y="31.9" width="2.0" height="24.9" fill="url(#pe)"/>
<rect x="332.2" y="31.9" width="2.0" height="24.9" fill="url(#pe)"/>
<rect x="334.2" y="31.9" width="7.7" height="24.9" fill="url(#pm)"/>
<rect x="301.7" y="52.6" width="1.5" height="24.6" fill="url(#pe)"/>
<rect x="303.2" y="52.6" width="6.7" height="24.6" fill="url(#pm)"/>
<rect x="340.9" y="52.4" width="6.7" height="24.7" fill="url(#pm)"/>
<rect x="347.6" y="52.4" width="1.5" height="24.7" fill="url(#pe)"/>
<rect x="367.4" y="122.4" width="1.6" height="11.3" fill="url(#pm)"/>
<rect x="369.1" y="122.4" width="9.6" height="11.3" fill="url(#pk)"/>
<rect x="378.7" y="122.4" width="1.4" height="11.3" fill="url(#pm)"/>
<rect x="357.2" y="97.8" width="7.7" height="24.6" fill="url(#pm)"/>
<rect x="364.9" y="97.8" width="2.0" height="24.6" fill="url(#pe)"/>
<rect x="380.6" y="97.8" width="2.0" height="24.6" fill="url(#pe)"/>
<rect x="382.6" y="97.8" width="7.7" height="24.6" fill="url(#pm)"/>
<rect x="350.1" y="77.2" width="1.5" height="20.7" fill="url(#pe)"/>
<rect x="351.6" y="77.2" width="6.7" height="20.7" fill="url(#pm)"/>
<rect x="389.2" y="77.2" width="6.7" height="24.7" fill="url(#pm)"/>
<rect x="395.9" y="77.2" width="1.5" height="24.7" fill="url(#pe)"/>
<rect x="415.8" y="20.6" width="1.6" height="11.3" fill="url(#pm)"/>
<rect x="417.4" y="20.6" width="9.6" height="11.3" fill="url(#pk)"/>
<rect x="427.0" y="20.6" width="1.4" height="11.3" fill="url(#pm)"/>
<rect x="405.6" y="31.9" width="7.7" height="24.9" fill="url(#pm)"/>
<rect x="413.3" y="31.9" width="2.0" height="24.9" fill="url(#pe)"/>
<rect x="428.9" y="31.9" width="2.0" height="24.9" fill="url(#pe)"/>
<rect x="430.9" y="31.9" width="7.7" height="24.9" fill="url(#pm)"/>
<rect x="398.4" y="52.6" width="1.5" height="24.6" fill="url(#pe)"/>
<rect x="399.9" y="52.6" width="6.7" height="24.6" fill="url(#pm)"/>
<rect x="437.6" y="52.4" width="6.7" height="24.7" fill="url(#pm)"/>
<rect x="444.3" y="52.4" width="1.5" height="24.7" fill="url(#pe)"/>
<rect x="464.2" y="122.4" width="1.6" height="11.3" fill="url(#pm)"/>
<rect x="465.8" y="122.4" width="9.6" height="11.3" fill="url(#pk)"/>
<rect x="475.4" y="122.4" width="1.4" height="11.3" fill="url(#pm)"/>
<rect x="454.0" y="97.8" width="7.7" height="24.6" fill="url(#pm)"/>
<rect x="461.7" y="97.8" width="2.0" height="24.6" fill="url(#pe)"/>
<rect x="477.3" y="97.8" width="2.0" height="24.6" fill="url(#pe)"/>
<rect x="479.3" y="97.8" width="7.7" height="24.6" fill="url(#pm)"/>
<rect x="446.8" y="77.2" width="1.5" height="20.7" fill="url(#pe)"/>
<rect x="448.3" y="77.2" width="6.7" height="20.7" fill="url(#pm)"/>
<rect x="486.0" y="77.2" width="6.7" height="24.7" fill="url(#pm)"/>
<rect x="492.7" y="77.2" width="1.5" height="24.7" fill="url(#pe)"/>
<rect x="512.5" y="20.6" width="1.6" height="11.3" fill="url(#pm)"/>
<rect x="514.1" y="20.6" width="9.6" height="11.3" fill="url(#pk)"/>
<rect x="523.7" y="20.6" width="1.4" height="11.3" fill="url(#pm)"/>
<rect x="502.3" y="31.9" width="7.7" height="24.9" fill="url(#pm)"/>
<rect x="510.0" y="31.9" width="2.0" height="24.9" fill="url(#pe)"/>
<rect x="525.6" y="31.9" width="2.0" height="24.9" fill="url(#pe)"/>
<rect x="527.6" y="31.9" width="7.4" height="24.9" fill="url(#pm)"/>
<rect x="495.1" y="52.6" width="1.5" height="24.6" fill="url(#pe)"/>
<rect x="496.6" y="52.6" width="6.7" height="24.6" fill="url(#pm)"/>
<rect x="534.3" y="52.4" width="0.7" height="24.7" fill="url(#pm)"/>
<rect x="68.4" y="223.8" width="16.3" height="6.2" fill="url(#ck)"/>
<rect x="71.0" y="230.0" width="11.1" height="8.7" fill="url(#cl)"/>
<rect x="68.4" y="230.0" width="2.6" height="6.5" fill="url(#ck)"/>
<rect x="82.1" y="230.0" width="2.6" height="6.5" fill="url(#ck)"/>
<rect x="68.4" y="236.5" width="2.6" height="2.2" fill="url(#cl)"/>
<rect x="82.1" y="236.5" width="2.6" height="2.2" fill="url(#cl)"/>
<rect x="60.3" y="229.2" width="8.1" height="21.7" fill="url(#cm)"/>
<rect x="84.7" y="229.2" width="8.1" height="21.7" fill="url(#cm)"/>
<rect x="53.0" y="250.9" width="7.3" height="27.1" fill="url(#cm)"/>
<rect x="92.9" y="250.9" width="7.9" height="27.1" fill="url(#cm)"/>
<rect x="116.8" y="326.0" width="16.3" height="6.2" fill="url(#ck)"/>
<rect x="119.4" y="317.3" width="11.1" height="8.7" fill="url(#cl)"/>
<rect x="116.8" y="319.5" width="2.6" height="6.5" fill="url(#ck)"/>
<rect x="130.5" y="319.5" width="2.6" height="6.5" fill="url(#ck)"/>
<rect x="116.8" y="317.3" width="2.6" height="2.2" fill="url(#cl)"/>
<rect x="130.5" y="317.3" width="2.6" height="2.2" fill="url(#cl)"/>
<rect x="108.6" y="305.1" width="8.1" height="21.7" fill="url(#cm)"/>
<rect x="133.1" y="305.1" width="8.2" height="21.7" fill="url(#cm)"/>
<rect x="100.8" y="278.0" width="7.9" height="27.1" fill="url(#cm)"/>
<rect x="141.2" y="278.0" width="7.9" height="27.1" fill="url(#cm)"/>
<rect x="165.1" y="223.8" width="16.3" height="6.2" fill="url(#ck)"/>
<rect x="167.7" y="230.0" width="11.1" height="8.7" fill="url(#cl)"/>
<rect x="165.1" y="230.0" width="2.6" height="6.5" fill="url(#ck)"/>
<rect x="178.8" y="230.0" width="2.6" height="6.5" fill="url(#ck)"/>
<rect x="165.1" y="236.5" width="2.6" height="2.2" fill="url(#cl)"/>
<rect x="178.8" y="236.5" width="2.6" height="2.2" fill="url(#cl)"/>
<rect x="157.0" y="229.2" width="8.2" height="21.7" fill="url(#cm)"/>
<rect x="181.4" y="229.2" width="8.2" height="21.7" fill="url(#cm)"/>
<rect x="149.1" y="250.9" width="7.9" height="27.1" fill="url(#cm)"/>
<rect x="189.6" y="250.9" width="7.9" height="27.1" fill="url(#cm)"/>
<rect x="213.5" y="326.0" width="16.3" height="6.2" fill="url(#ck)"/>
<rect x="216.1" y="317.3" width="11.1" height="8.7" fill="url(#cl)"/>
<rect x="213.5" y="319.5" width="2.6" height="6.5" fill="url(#ck)"/>
<rect x="227.2" y="319.5" width="2.6" height="6.5" fill="url(#ck)"/>
<rect x="213.5" y="317.3" width="2.6" height="2.2" fill="url(#cl)"/>
<rect x="227.2" y="317.3" width="2.6" height="2.2" fill="url(#cl)"/>
<rect x="205.3" y="305.1" width="8.2" height="21.7" fill="url(#cm)"/>
<rect x="229.8" y="305.1" width="8.2" height="21.7" fill="url(#cm)"/>
<rect x="197.4" y="278.0" width="7.9" height="27.1" fill="url(#cm)"/>
<rect x="237.9" y="278.0" width="7.9" height="27.1" fill="url(#cm)"/>
<rect x="261.8" y="223.8" width="16.3" height="6.2" fill="url(#ck)"/>
<rect x="264.4" y="230.0" width="11.1" height="8.7" fill="url(#cl)"/>
<rect x="261.8" y="230.0" width="2.6" height="6.5" fill="url(#ck)"/>
<rect x="275.5" y="230.0" width="2.6" height="6.5" fill="url(#ck)"/>
<rect x="261.8" y="236.5" width="2.6" height="2.2" fill="url(#cl)"/>
<rect x="275.5" y="236.5" width="2.6" height="2.2" fill="url(#cl)"/>
<rect x="253.7" y="229.2" width="8.2" height="21.7" fill="url(#cm)"/>
<rect x="278.1" y="229.2" width="8.2" height="21.7" fill="url(#cm)"/>
<rect x="245.8" y="250.9" width="7.9" height="27.1" fill="url(#cm)"/>
<rect x="286.3" y="250.9" width="7.9" height="27.1" fill="url(#cm)"/>
<rect x="310.2" y="326.0" width="16.3" height="6.2" fill="url(#ck)"/>
<rect x="312.8" y="317.3" width="11.1" height="8.7" fill="url(#cl)"/>
<rect x="310.2" y="319.5" width="2.6" height="6.5" fill="url(#ck)"/>
<rect x="323.9" y="319.5" width="2.6" height="6.5" fill="url(#ck)"/>
<rect x="310.2" y="317.3" width="2.6" height="2.2" fill="url(#cl)"/>
<rect x="323.9" y="317.3" width="2.6" height="2.2" fill="url(#cl)"/>
<rect x="302.0" y="305.1" width="8.2" height="21.7" fill="url(#cm)"/>
<rect x="326.5" y="305.1" width="8.2" height="21.7" fill="url(#cm)"/>
<rect x="294.2" y="278.0" width="7.9" height="27.1" fill="url(#cm)"/>
<rect x="334.6" y="278.0" width="7.9" height="27.1" fill="url(#cm)"/>
<rect x="358.5" y="223.8" width="16.3" height="6.2" fill="url(#ck)"/>
<rect x="361.1" y="230.0" width="11.1" height="8.7" fill="url(#cl)"/>
<rect x="358.5" y="230.0" width="2.6" height="6.5" fill="url(#ck)"/>
<rect x="372.2" y="230.0" width="2.6" height="6.5" fill="url(#ck)"/>
<rect x="358.5" y="236.5" width="2.6" height="2.2" fill="url(#cl)"/>
<rect x="372.2" y="236.5" width="2.6" height="2.2" fill="url(#cl)"/>
<rect x="350.4" y="229.2" width="8.2" height="21.7" fill="url(#cm)"/>
<rect x="374.8" y="229.2" width="8.2" height="21.7" fill="url(#cm)"/>
<rect x="342.5" y="250.9" width="7.9" height="27.1" fill="url(#cm)"/>
<rect x="383.0" y="250.9" width="7.9" height="27.1" fill="url(#cm)"/>
<rect x="406.9" y="326.0" width="16.3" height="6.2" fill="url(#ck)"/>
<rect x="409.5" y="317.3" width="11.1" height="8.7" fill="url(#cl)"/>
<rect x="406.9" y="319.5" width="2.6" height="6.5" fill="url(#ck)"/>
<rect x="420.6" y="319.5" width="2.6" height="6.5" fill="url(#ck)"/>
<rect x="406.9" y="317.3" width="2.6" height="2.2" fill="url(#cl)"/>
<rect x="420.6" y="317.3" width="2.6" height="2.2" fill="url(#cl)"/>
<rect x="398.7" y="305.1" width="8.2" height="21.7" fill="url(#cm)"/>
<rect x="423.2" y="305.1" width="8.2" height="21.7" fill="url(#cm)"/>
<rect x="390.9" y="278.0" width="7.9" height="27.1" fill="url(#cm)"/>
<rect x="431.3" y="278.0" width="7.9" height="27.1" fill="url(#cm)"/>
<rect x="455.2" y="223.8" width="16.3" height="6.2" fill="url(#ck)"/>
<rect x="457.8" y="230.0" width="11.1" height="8.7" fill="url(#cl)"/>
<rect x="455.2" y="230.0" width="2.6" height="6.5" fill="url(#ck)"/>
<rect x="468.9" y="230.0" width="2.6" height="6.5" fill="url(#ck)"/>
<rect x="455.2" y="236.5" width="2.6" height="2.2" fill="url(#cl)"/>
<rect x="468.9" y="236.5" width="2.6" height="2.2" fill="url(#cl)"/>
<rect x="447.1" y="229.2" width="8.2" height="21.7" fill="url(#cm)"/>
<rect x="471.5" y="229.2" width="8.2" height="21.7" fill="url(#cm)"/>
<rect x="439.2" y="250.9" width="7.9" height="27.1" fill="url(#cm)"/>
<rect x="479.7" y="250.9" width="7.9" height="27.1" fill="url(#cm)"/>
<rect x="503.6" y="326.0" width="16.3" height="6.2" fill="url(#ck)"/>
<rect x="506.2" y="317.3" width="11.1" height="8.7" fill="url(#cl)"/>
<rect x="503.6" y="319.5" width="2.6" height="6.5" fill="url(#ck)"/>
<rect x="517.3" y="319.5" width="2.6" height="6.5" fill="url(#ck)"/>
<rect x="503.6" y="317.3" width="2.6" height="2.2" fill="url(#cl)"/>
<rect x="517.3" y="317.3" width="2.6" height="2.2" fill="url(#cl)"/>
<rect x="495.4" y="305.1" width="8.2" height="21.7" fill="url(#cm)"/>
<rect x="519.9" y="305.1" width="8.1" height="21.7" fill="url(#cm)"/>
<rect x="487.6" y="278.0" width="7.9" height="27.1" fill="url(#cm)"/>
<rect x="528.0" y="278.0" width="7.0" height="27.1" fill="url(#cm)"/>
<rect x="53.0" y="326.0" width="15.6" height="6.2" fill="url(#bk)"/>
<rect x="54.9" y="317.3" width="11.1" height="8.7" fill="url(#bl)"/>
<rect x="53.0" y="319.5" width="1.9" height="6.5" fill="url(#bk)"/>
<rect x="66.0" y="319.5" width="2.6" height="6.5" fill="url(#bk)"/>
<rect x="53.0" y="317.3" width="1.9" height="2.2" fill="url(#bl)"/>
<rect x="66.0" y="317.3" width="2.6" height="2.2" fill="url(#bl)"/>
<rect x="68.6" y="305.1" width="8.2" height="21.7" fill="url(#bm)"/>
<rect x="76.8" y="278.0" width="7.9" height="27.1" fill="url(#bm)"/>
<rect x="100.7" y="223.8" width="16.3" height="6.2" fill="url(#bk)"/>
<rect x="103.3" y="230.0" width="11.1" height="8.7" fill="url(#bl)"/>
<rect x="100.7" y="230.0" width="2.6" height="6.5" fill="url(#bk)"/>
<rect x="114.4" y="230.0" width="2.6" height="6.5" fill="url(#bk)"/>
<rect x="100.7" y="236.5" width="2.6" height="2.2" fill="url(#bl)"/>
<rect x="114.4" y="236.5" width="2.6" height="2.2" fill="url(#bl)"/>
<rect x="92.5" y="229.2" width="8.1" height="21.7" fill="url(#bm)"/>
<rect x="117.0" y="229.2" width="8.1" height="21.7" fill="url(#bm)"/>
<rect x="84.6" y="250.9" width="7.9" height="27.1" fill="url(#bm)"/>
<rect x="125.1" y="250.9" width="7.9" height="27.1" fill="url(#bm)"/>
<rect x="149.0" y="326.0" width="16.3" height="6.2" fill="url(#bk)"/>
<rect x="151.6" y="317.3" width="11.1" height="8.7" fill="url(#bl)"/>
<rect x="149.0" y="319.5" width="2.6" height="6.5" fill="url(#bk)"/>
<rect x="162.7" y="319.5" width="2.6" height="6.5" fill="url(#bk)"/>
<rect x="149.0" y="317.3" width="2.6" height="2.2" fill="url(#bl)"/>
<rect x="162.7" y="317.3" width="2.6" height="2.2" fill="url(#bl)"/>
<rect x="140.9" y="305.1" width="8.2" height="21.7" fill="url(#bm)"/>
<rect x="165.3" y="305.1" width="8.2" height="21.7" fill="url(#bm)"/>
<rect x="133.0" y="278.0" width="7.9" height="27.1" fill="url(#bm)"/>
<rect x="173.5" y="278.0" width="7.9" height="27.1" fill="url(#bm)"/>
<rect x="197.4" y="223.8" width="16.3" height="6.2" fill="url(#bk)"/>
<rect x="200.0" y="230.0" width="11.1" height="8.7" fill="url(#bl)"/>
<rect x="197.4" y="230.0" width="2.6" height="6.5" fill="url(#bk)"/>
<rect x="211.1" y="230.0" width="2.6" height="6.5" fill="url(#bk)"/>
<rect x="197.4" y="236.5" width="2.6" height="2.2" fill="url(#bl)"/>
<rect x="211.1" y="236.5" width="2.6" height="2.2" fill="url(#bl)"/>
<rect x="189.2" y="229.2" width="8.2" height="21.7" fill="url(#bm)"/>
<rect x="213.7" y="229.2" width="8.2" height="21.7" fill="url(#bm)"/>
<rect x="181.3" y="250.9" width="7.9" height="27.1" fill="url(#bm)"/>
<rect x="221.8" y="250.9" width="7.9" height="27.1" fill="url(#bm)"/>
<rect x="245.7" y="326.0" width="16.3" height="6.2" fill="url(#bk)"/>
<rect x="248.3" y="317.3" width="11.1" height="8.7" fill="url(#bl)"/>
<rect x="245.7" y="319.5" width="2.6" height="6.5" fill="url(#bk)"/>
<rect x="259.4" y="319.5" width="2.6" height="6.5" fill="url(#bk)"/>
<rect x="245.7" y="317.3" width="2.6" height="2.2" fill="url(#bl)"/>
<rect x="259.4" y="317.3" width="2.6" height="2.2" fill="url(#bl)"/>
<rect x="237.6" y="305.1" width="8.2" height="21.7" fill="url(#bm)"/>
<rect x="262.0" y="305.1" width="8.1" height="21.7" fill="url(#bm)"/>
<rect x="229.7" y="278.0" width="7.9" height="27.1" fill="url(#bm)"/>
<rect x="270.2" y="278.0" width="7.9" height="27.1" fill="url(#bm)"/>
<rect x="294.1" y="223.8" width="16.3" height="6.2" fill="url(#bk)"/>
<rect x="296.7" y="230.0" width="11.1" height="8.7" fill="url(#bl)"/>
<rect x="294.1" y="230.0" width="2.6" height="6.5" fill="url(#bk)"/>
<rect x="307.8" y="230.0" width="2.6" height="6.5" fill="url(#bk)"/>
<rect x="294.1" y="236.5" width="2.6" height="2.2" fill="url(#bl)"/>
<rect x="307.8" y="236.5" width="2.6" height="2.2" fill="url(#bl)"/>
<rect x="285.9" y="229.2" width="8.2" height="21.7" fill="url(#bm)"/>
<rect x="310.4" y="229.2" width="8.2" height="21.7" fill="url(#bm)"/>
<rect x="278.0" y="250.9" width="7.9" height="27.1" fill="url(#bm)"/>
<rect x="318.5" y="250.9" width="7.9" height="27.1" fill="url(#bm)"/>
<rect x="342.4" y="326.0" width="16.3" height="6.2" fill="url(#bk)"/>
<rect x="345.0" y="317.3" width="11.1" height="8.7" fill="url(#bl)"/>
<rect x="342.4" y="319.5" width="2.6" height="6.5" fill="url(#bk)"/>
<rect x="356.1" y="319.5" width="2.6" height="6.5" fill="url(#bk)"/>
<rect x="342.4" y="317.3" width="2.6" height="2.2" fill="url(#bl)"/>
<rect x="356.1" y="317.3" width="2.6" height="2.2" fill="url(#bl)"/>
<rect x="334.3" y="305.1" width="8.2" height="21.7" fill="url(#bm)"/>
<rect x="358.7" y="305.1" width="8.2" height="21.7" fill="url(#bm)"/>
<rect x="326.4" y="278.0" width="7.9" height="27.1" fill="url(#bm)"/>
<rect x="366.9" y="278.0" width="7.9" height="27.1" fill="url(#bm)"/>
<rect x="390.8" y="223.8" width="16.3" height="6.2" fill="url(#bk)"/>
<rect x="393.4" y="230.0" width="11.1" height="8.7" fill="url(#bl)"/>
<rect x="390.8" y="230.0" width="2.6" height="6.5" fill="url(#bk)"/>
<rect x="404.5" y="230.0" width="2.6" height="6.5" fill="url(#bk)"/>
<rect x="390.8" y="236.5" width="2.6" height="2.2" fill="url(#bl)"/>
<rect x="404.5" y="236.5" width="2.6" height="2.2" fill="url(#bl)"/>
<rect x="382.6" y="229.2" width="8.2" height="21.7" fill="url(#bm)"/>
<rect x="407.1" y="229.2" width="8.2" height="21.7" fill="url(#bm)"/>
<rect x="374.7" y="250.9" width="7.9" height="27.1" fill="url(#bm)"/>
<rect x="415.2" y="250.9" width="7.9" height="27.1" fill="url(#bm)"/>
<rect x="439.1" y="326.0" width="16.3" height="6.2" fill="url(#bk)"/>
<rect x="441.7" y="317.3" width="11.1" height="8.7" fill="url(#bl)"/>
<rect x="439.1" y="319.5" width="2.6" height="6.5" fill="url(#bk)"/>
<rect x="452.8" y="319.5" width="2.6" height="6.5" fill="url(#bk)"/>
<rect x="439.1" y="317.3" width="2.6" height="2.2" fill="url(#bl)"/>
<rect x="452.8" y="317.3" width="2.6" height="2.2" fill="url(#bl)"/>
<rect x="431.0" y="305.1" width="8.2" height="21.7" fill="url(#bm)"/>
<rect x="455.4" y="305.1" width="8.2" height="21.7" fill="url(#bm)"/>
<rect x="423.1" y="278.0" width="7.9" height="27.1" fill="url(#bm)"/>
<rect x="463.6" y="278.0" width="7.9" height="27.1" fill="url(#bm)"/>
<rect x="487.5" y="223.8" width="16.3" height="6.2" fill="url(#bk)"/>
<rect x="490.1" y="230.0" width="11.1" height="8.7" fill="url(#bl)"/>
<rect x="487.5" y="230.0" width="2.6" height="6.5" fill="url(#bk)"/>
<rect x="501.2" y="230.0" width="2.6" height="6.5" fill="url(#bk)"/>
<rect x="487.5" y="236.5" width="2.6" height="2.2" fill="url(#bl)"/>
<rect x="501.2" y="236.5" width="2.6" height="2.2" fill="url(#bl)"/>
<rect x="479.3" y="229.2" width="8.2" height="21.7" fill="url(#bm)"/>
<rect x="503.8" y="229.2" width="8.2" height="21.7" fill="url(#bm)"/>
<rect x="471.4" y="250.9" width="7.9" height="27.1" fill="url(#bm)"/>
<rect x="511.9" y="250.9" width="7.9" height="27.1" fill="url(#bm)"/>
<rect x="527.7" y="305.1" width="7.3" height="21.7" fill="url(#bm)"/>
<rect x="519.8" y="278.0" width="7.9" height="27.1" fill="url(#bm)"/>
<rect x="53.0" y="229.2" width="7.6" height="21.7" fill="url(#pm)"/>
<rect x="60.6" y="250.9" width="7.9" height="27.1" fill="url(#pm)"/>
<rect x="84.5" y="326.0" width="16.3" height="6.2" fill="url(#pk)"/>
<rect x="87.1" y="317.3" width="11.1" height="8.7" fill="url(#pl)"/>
<rect x="84.5" y="319.5" width="2.6" height="6.5" fill="url(#pk)"/>
<rect x="98.2" y="319.5" width="2.6" height="6.5" fill="url(#pk)"/>
<rect x="84.5" y="317.3" width="2.6" height="2.2" fill="url(#pl)"/>
<rect x="98.2" y="317.3" width="2.6" height="2.2" fill="url(#pl)"/>
<rect x="76.4" y="305.1" width="8.1" height="21.7" fill="url(#pm)"/>
<rect x="100.8" y="305.1" width="8.1" height="21.7" fill="url(#pm)"/>
<rect x="68.5" y="278.0" width="7.9" height="27.1" fill="url(#pm)"/>
<rect x="109.0" y="278.0" width="7.9" height="27.1" fill="url(#pm)"/>
<rect x="132.9" y="223.8" width="16.3" height="6.2" fill="url(#pk)"/>
<rect x="135.5" y="230.0" width="11.1" height="8.7" fill="url(#pl)"/>
<rect x="132.9" y="230.0" width="2.6" height="6.5" fill="url(#pk)"/>
<rect x="146.6" y="230.0" width="2.6" height="6.5" fill="url(#pk)"/>
<rect x="132.9" y="236.5" width="2.6" height="2.2" fill="url(#pl)"/>
<rect x="146.6" y="236.5" width="2.6" height="2.2" fill="url(#pl)"/>
<rect x="124.7" y="229.2" width="8.1" height="21.7" fill="url(#pm)"/>
<rect x="149.2" y="229.2" width="8.2" height="21.7" fill="url(#pm)"/>
<rect x="116.9" y="250.9" width="7.9" height="27.1" fill="url(#pm)"/>
<rect x="157.3" y="250.9" width="7.9" height="27.1" fill="url(#pm)"/>
<rect x="181.2" y="326.0" width="16.3" height="6.2" fill="url(#pk)"/>
<rect x="183.8" y="317.3" width="11.1" height="8.7" fill="url(#pl)"/>
<rect x="181.2" y="319.5" width="2.6" height="6.5" fill="url(#pk)"/>
<rect x="194.9" y="319.5" width="2.6" height="6.5" fill="url(#pk)"/>
<rect x="181.2" y="317.3" width="2.6" height="2.2" fill="url(#pl)"/>
<rect x="194.9" y="317.3" width="2.6" height="2.2" fill="url(#pl)"/>
<rect x="173.1" y="305.1" width="8.2" height="21.7" fill="url(#pm)"/>
<rect x="197.5" y="305.1" width="8.2" height="21.7" fill="url(#pm)"/>
<rect x="165.2" y="278.0" width="7.9" height="27.1" fill="url(#pm)"/>
<rect x="205.7" y="278.0" width="7.9" height="27.1" fill="url(#pm)"/>
<rect x="229.6" y="223.8" width="16.3" height="6.2" fill="url(#pk)"/>
<rect x="232.2" y="230.0" width="11.1" height="8.7" fill="url(#pl)"/>
<rect x="229.6" y="230.0" width="2.6" height="6.5" fill="url(#pk)"/>
<rect x="243.3" y="230.0" width="2.6" height="6.5" fill="url(#pk)"/>
<rect x="229.6" y="236.5" width="2.6" height="2.2" fill="url(#pl)"/>
<rect x="243.3" y="236.5" width="2.6" height="2.2" fill="url(#pl)"/>
<rect x="221.4" y="229.2" width="8.2" height="21.7" fill="url(#pm)"/>
<rect x="245.9" y="229.2" width="8.2" height="21.7" fill="url(#pm)"/>
<rect x="213.6" y="250.9" width="7.9" height="27.1" fill="url(#pm)"/>
<rect x="254.0" y="250.9" width="7.9" height="27.1" fill="url(#pm)"/>
<rect x="277.9" y="326.0" width="16.3" height="6.2" fill="url(#pk)"/>
<rect x="280.5" y="317.3" width="11.1" height="8.7" fill="url(#pl)"/>
<rect x="277.9" y="319.5" width="2.6" height="6.5" fill="url(#pk)"/>
<rect x="291.6" y="319.5" width="2.6" height="6.5" fill="url(#pk)"/>
<rect x="277.9" y="317.3" width="2.6" height="2.2" fill="url(#pl)"/>
<rect x="291.6" y="317.3" width="2.6" height="2.2" fill="url(#pl)"/>
<rect x="269.8" y="305.1" width="8.2" height="21.7" fill="url(#pm)"/>
<rect x="294.2" y="305.1" width="8.2" height="21.7" fill="url(#pm)"/>
<rect x="261.9" y="278.0" width="7.9" height="27.1" fill="url(#pm)"/>
<rect x="302.4" y="278.0" width="7.9" height="27.1" fill="url(#pm)"/>
<rect x="326.3" y="223.8" width="16.3" height="6.2" fill="url(#pk)"/>
<rect x="328.9" y="230.0" width="11.1" height="8.7" fill="url(#pl)"/>
<rect x="326.3" y="230.0" width="2.6" height="6.5" fill="url(#pk)"/>
<rect x="340.0" y="230.0" width="2.6" height="6.5" fill="url(#pk)"/>
<rect x="326.3" y="236.5" width="2.6" height="2.2" fill="url(#pl)"/>
<rect x="340.0" y="236.5" width="2.6" height="2.2" fill="url(#pl)"/>
<rect x="318.1" y="229.2" width="8.2" height="21.7" fill="url(#pm)"/>
<rect x="342.6" y="229.2" width="8.2" height="21.7" fill="url(#pm)"/>
<rect x="310.3" y="250.9" width="7.9" height="27.1" fill="url(#pm)"/>
<rect x="350.7" y="250.9" width="7.9" height="27.1" fill="url(#pm)"/>
<rect x="374.6" y="326.0" width="16.3" height="6.2" fill="url(#pk)"/>
<rect x="377.2" y="317.3" width="11.1" height="8.7" fill="url(#pl)"/>
<rect x="374.6" y="319.5" width="2.6" height="6.5" fill="url(#pk)"/>
<rect x="388.3" y="319.5" width="2.6" height="6.5" fill="url(#pk)"/>
<rect x="374.6" y="317.3" width="2.6" height="2.2" fill="url(#pl)"/>
<rect x="388.3" y="317.3" width="2.6" height="2.2" fill="url(#pl)"/>
<rect x="366.5" y="305.1" width="8.2" height="21.7" fill="url(#pm)"/>
<rect x="390.9" y="305.1" width="8.2" height="21.7" fill="url(#pm)"/>
<rect x="358.6" y="278.0" width="7.9" height="27.1" fill="url(#pm)"/>
<rect x="399.1" y="278.0" width="7.9" height="27.1" fill="url(#pm)"/>
<rect x="423.0" y="223.8" width="16.3" height="6.2" fill="url(#pk)"/>
<rect x="425.6" y="230.0" width="11.1" height="8.7" fill="url(#pl)"/>
<rect x="423.0" y="230.0" width="2.6" height="6.5" fill="url(#pk)"/>
<rect x="436.7" y="230.0" width="2.6" height="6.5" fill="url(#pk)"/>
<rect x="423.0" y="236.5" width="2.6" height="2.2" fill="url(#pl)"/>
<rect x="436.7" y="236.5" width="2.6" height="2.2" fill="url(#pl)"/>
<rect x="414.8" y="229.2" width="8.2" height="21.7" fill="url(#pm)"/>
<rect x="439.3" y="229.2" width="8.2" height="21.7" fill="url(#pm)"/>
<rect x="407.0" y="250.9" width="7.9" height="27.1" fill="url(#pm)"/>
<rect x="447.4" y="250.9" width="7.9" height="27.1" fill="url(#pm)"/>
<rect x="471.3" y="326.0" width="16.3" height="6.2" fill="url(#pk)"/>
<rect x="473.9" y="317.3" width="11.1" height="8.7" fill="url(#pl)"/>
<rect x="471.3" y="319.5" width="2.6" height="6.5" fill="url(#pk)"/>
<rect x="485.0" y="319.5" width="2.6" height="6.5" fill="url(#pk)"/>
<rect x="471.3" y="317.3" width="2.6" height="2.2" fill="url(#pl)"/>
<rect x="485.0" y="317.3" width="2.6" height="2.2" fill="url(#pl)"/>
<rect x="463.2" y="305.1" width="8.2" height="21.7" fill="url(#pm)"/>
<rect x="487.6" y="305.1" width="8.2" height="21.7" fill="url(#pm)"/>
<rect x="455.3" y="278.0" width="7.9" height="27.1" fill="url(#pm)"/>
<rect x="495.8" y="278.0" width="7.9" height="27.1" fill="url(#pm)"/>
<rect x="519.7" y="223.8" width="15.3" height="6.2" fill="url(#pk)"/>
<rect x="522.3" y="230.0" width="11.1" height="8.7" fill="url(#pl)"/>
<rect x="519.7" y="230.0" width="2.6" height="6.5" fill="url(#pk)"/>
<rect x="533.4" y="230.0" width="1.6" height="6.5" fill="url(#pk)"/>
<rect x="519.7" y="236.5" width="2.6" height="2.2" fill="url(#pl)"/>
<rect x="533.4" y="236.5" width="1.6" height="2.2" fill="url(#pl)"/>
<rect x="511.5" y="229.2" width="8.2" height="21.7" fill="url(#pm)"/>
<rect x="503.7" y="250.9" width="7.9" height="27.1" fill="url(#pm)"/>
</g>
<g shape-rendering="crispEdges">
<rect x="51.50" y="6.50" width="484.00" height="142.00" fill="none" stroke="#a8a8a8"/>
<line x1="51.50" y1="137.50" x2="56.00" y2="137.50" stroke="#a8a8a8"/>
<line x1="531.00" y1="137.50" x2="535.50" y2="137.50" stroke="#a8a8a8"/>
<line x1="51.50" y1="107.50" x2="56.00" y2="107.50" stroke="#a8a8a8"/>
<line x1="531.00" y1="107.50" x2="535.50" y2="107.50" stroke="#a8a8a8"/>
<line x1="51.50" y1="77.50" x2="56.00" y2="77.50" stroke="#a8a8a8"/>
<line x1="531.00" y1="77.50" x2="535.50" y2="77.50" stroke="#a8a8a8"/>
<line x1="51.50" y1="46.50" x2="56.00" y2="46.50" stroke="#a8a8a8"/>
<line x1="531.00" y1="46.50" x2="535.50" y2="46.50" stroke="#a8a8a8"/>
<line x1="51.50" y1="16.50" x2="56.00" y2="16.50" stroke="#a8a8a8"/>
<line x1="531.00" y1="16.50" x2="535.50" y2="16.50" stroke="#a8a8a8"/>
<line x1="51.50" y1="144.00" x2="51.50" y2="148.50" stroke="#a8a8a8"/>
<line x1="51.50" y1="6.50" x2="51.50" y2="11.00" stroke="#a8a8a8"/>
<line x1="99.50" y1="144.00" x2="99.50" y2="148.50" stroke="#a8a8a8"/>
<line x1="99.50" y1="6.50" x2="99.50" y2="11.00" stroke="#a8a8a8"/>
<line x1="148.50" y1="144.00" x2="148.50" y2="148.50" stroke="#a8a8a8"/>
<line x1="148.50" y1="6.50" x2="148.50" y2="11.00" stroke="#a8a8a8"/>
<line x1="196.50" y1="144.00" x2="196.50" y2="148.50" stroke="#a8a8a8"/>
<line x1="196.50" y1="6.50" x2="196.50" y2="11.00" stroke="#a8a8a8"/>
<line x1="244.50" y1="144.00" x2="244.50" y2="148.50" stroke="#a8a8a8"/>
<line x1="244.50" y1="6.50" x2="244.50" y2="11.00" stroke="#a8a8a8"/>
<line x1="293.50" y1="144.00" x2="293.50" y2="148.50" stroke="#a8a8a8"/>
<line x1="293.50" y1="6.50" x2="293.50" y2="11.00" stroke="#a8a8a8"/>
<line x1="341.50" y1="144.00" x2="341.50" y2="148.50" stroke="#a8a8a8"/>
<line x1="341.50" y1="6.50" x2="341.50" y2="11.00" stroke="#a8a8a8"/>
<line x1="390.50" y1="144.00" x2="390.50" y2="148.50" stroke="#a8a8a8"/>
<line x1="390.50" y1="6.50" x2="390.50" y2="11.00" stroke="#a8a8a8"/>
<line x1="438.50" y1="144.00" x2="438.50" y2="148.50" stroke="#a8a8a8"/>
<line x1="438.50" y1="6.50" x2="438.50" y2="11.00" stroke="#a8a8a8"/>
<line x1="486.50" y1="144.00" x2="486.50" y2="148.50" stroke="#a8a8a8"/>
<line x1="486.50" y1="6.50" x2="486.50" y2="11.00" stroke="#a8a8a8"/>
<line x1="535.50" y1="144.00" x2="535.50" y2="148.50" stroke="#a8a8a8"/>
<line x1="535.50" y1="6.50" x2="535.50" y2="11.00" stroke="#a8a8a8"/>
<rect x="52.50" y="210.50" width="483.00" height="135.00" fill="none" stroke="#a8a8a8"/>
<line x1="52.50" y1="332.50" x2="57.00" y2="332.50" stroke="#a8a8a8"/>
<line x1="531.00" y1="332.50" x2="535.50" y2="332.50" stroke="#a8a8a8"/>
<line x1="52.50" y1="305.50" x2="57.00" y2="305.50" stroke="#a8a8a8"/>
<line x1="531.00" y1="305.50" x2="535.50" y2="305.50" stroke="#a8a8a8"/>
<line x1="52.50" y1="278.50" x2="57.00" y2="278.50" stroke="#a8a8a8"/>
<line x1="531.00" y1="278.50" x2="535.50" y2="278.50" stroke="#a8a8a8"/>
<line x1="52.50" y1="250.50" x2="57.00" y2="250.50" stroke="#a8a8a8"/>
<line x1="531.00" y1="250.50" x2="535.50" y2="250.50" stroke="#a8a8a8"/>
<line x1="52.50" y1="223.50" x2="57.00" y2="223.50" stroke="#a8a8a8"/>
<line x1="531.00" y1="223.50" x2="535.50" y2="223.50" stroke="#a8a8a8"/>
<line x1="52.50" y1="341.00" x2="52.50" y2="345.50" stroke="#a8a8a8"/>
<line x1="52.50" y1="210.50" x2="52.50" y2="215.00" stroke="#a8a8a8"/>
<line x1="100.50" y1="341.00" x2="100.50" y2="345.50" stroke="#a8a8a8"/>
<line x1="100.50" y1="210.50" x2="100.50" y2="215.00" stroke="#a8a8a8"/>
<line x1="149.50" y1="341.00" x2="149.50" y2="345.50" stroke="#a8a8a8"/>
<line x1="149.50" y1="210.50" x2="149.50" y2="215.00" stroke="#a8a8a8"/>
<line x1="197.50" y1="341.00" x2="197.50" y2="345.50" stroke="#a8a8a8"/>
<line x1="197.50" y1="210.50" x2="197.50" y2="215.00" stroke="#a8a8a8"/>
<line x1="245.50" y1="341.00" x2="245.50" y2="345.50" stroke="#a8a8a8"/>
<line x1="245.50" y1="210.50" x2="245.50" y2="215.00" stroke="#a8a8a8"/>
<line x1="294.50" y1="341.00" x2="294.50" y2="345.50" stroke="#a8a8a8"/>
<line x1="294.50" y1="210.50" x2="294.50" y2="215.00" stroke="#a8a8a8"/>
<line x1="342.50" y1="341.00" x2="342.50" y2="345.50" stroke="#a8a8a8"/>
<line x1="342.50" y1="210.50" x2="342.50" y2="215.00" stroke="#a8a8a8"/>
<line x1="390.50" y1="341.00" x2="390.50" y2="345.50" stroke="#a8a8a8"/>
<line x1="390.50" y1="210.50" x2="390.50" y2="215.00" stroke="#a8a8a8"/>
<line x1="439.50" y1="341.00" x2="439.50" y2="345.50" stroke="#a8a8a8"/>
<line x1="439.50" y1="210.50" x2="439.50" y2="215.00" stroke="#a8a8a8"/>
<line x1="487.50" y1="341.00" x2="487.50" y2="345.50" stroke="#a8a8a8"/>
<line x1="487.50" y1="210.50" x2="487.50" y2="215.00" stroke="#a8a8a8"/>
<line x1="535.50" y1="341.00" x2="535.50" y2="345.50" stroke="#a8a8a8"/>
<line x1="535.50" y1="210.50" x2="535.50" y2="215.00" stroke="#a8a8a8"/>
</g>
<text x="47.50" y="21.03" font-size="10.50" text-anchor="end">400</text>
<text x="47.50" y="51.79" font-size="10.50" text-anchor="end">200</text>
<text x="47.50" y="82.05" font-size="10.50" text-anchor="end">0</text>
<text x="47.50" y="112.21" font-size="10.50" text-anchor="end">-200</text>
<text x="47.50" y="142.37" font-size="10.50" text-anchor="end">-400</text>
<text x="48.00" y="227.50" font-size="10.50" text-anchor="end">200</text>
<text x="48.00" y="254.60" font-size="10.50" text-anchor="end">100</text>
<text x="48.00" y="281.70" font-size="10.50" text-anchor="end">0</text>
<text x="48.00" y="308.80" font-size="10.50" text-anchor="end">-100</text>
<text x="48.00" y="335.90" font-size="10.50" text-anchor="end">-200</text>
<text x="51.60" y="162.60" font-size="10.50" text-anchor="middle">0</text>
<text x="52.40" y="360.00" font-size="10.50" text-anchor="middle">0</text>
<text x="99.95" y="162.60" font-size="10.50" text-anchor="middle">0.01</text>
<text x="100.75" y="360.00" font-size="10.50" text-anchor="middle">0.01</text>
<text x="148.30" y="162.60" font-size="10.50" text-anchor="middle">0.02</text>
<text x="149.10" y="360.00" font-size="10.50" text-anchor="middle">0.02</text>
<text x="196.65" y="162.60" font-size="10.50" text-anchor="middle">0.03</text>
<text x="197.45" y="360.00" font-size="10.50" text-anchor="middle">0.03</text>
<text x="245.00" y="162.60" font-size="10.50" text-anchor="middle">0.04</text>
<text x="245.80" y="360.00" font-size="10.50" text-anchor="middle">0.04</text>
<text x="293.35" y="162.60" font-size="10.50" text-anchor="middle">0.05</text>
<text x="294.15" y="360.00" font-size="10.50" text-anchor="middle">0.05</text>
<text x="341.70" y="162.60" font-size="10.50" text-anchor="middle">0.06</text>
<text x="342.50" y="360.00" font-size="10.50" text-anchor="middle">0.06</text>
<text x="390.05" y="162.60" font-size="10.50" text-anchor="middle">0.07</text>
<text x="390.85" y="360.00" font-size="10.50" text-anchor="middle">0.07</text>
<text x="438.40" y="162.60" font-size="10.50" text-anchor="middle">0.08</text>
<text x="439.20" y="360.00" font-size="10.50" text-anchor="middle">0.08</text>
<text x="486.75" y="162.60" font-size="10.50" text-anchor="middle">0.09</text>
<text x="487.55" y="360.00" font-size="10.50" text-anchor="middle">0.09</text>
<text x="535.10" y="162.60" font-size="10.50" text-anchor="middle">0.1</text>
<text x="535.90" y="360.00" font-size="10.50" text-anchor="middle">0.1</text>
<text x="294.20" y="178.60" font-size="11.75" text-anchor="middle">Time (sec)</text>
<text x="295.00" y="194.20" font-size="11.75" text-anchor="middle">(a)</text>
<text x="294.20" y="377.00" font-size="11.75" text-anchor="middle">Time (sec)</text>
<text x="295.00" y="391.60" font-size="11.75" text-anchor="middle">(b)</text>
<text transform="translate(15.2,76.6) rotate(-90)" font-size="11.75" text-anchor="middle">Voltage (V)</text>
<text transform="translate(14.8,276.7) rotate(-90)" font-size="11.75" text-anchor="middle">Voltage (V)</text>
</svg></div>
</body></html>
